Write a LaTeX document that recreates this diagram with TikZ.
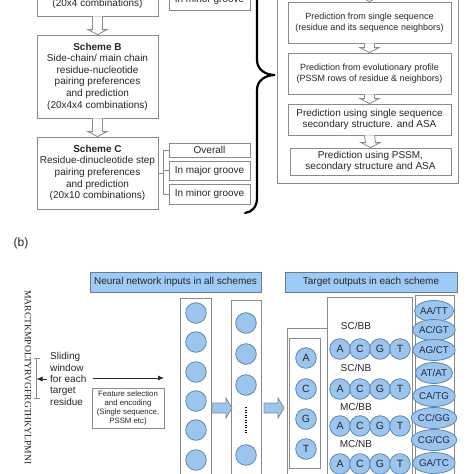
\documentclass[tikz,border=0pt]{standalone}
\usepackage{fontspec}
\setmainfont{Liberation Sans}
\newfontfamily\seqfont{Liberation Serif}
\usetikzlibrary{calc,shapes.geometric,arrows.meta}
\definecolor{gline}{HTML}{8A8A8A}
\definecolor{nfill}{HTML}{9CC5EE}
\definecolor{nline}{HTML}{5E86B5}
\definecolor{tfill}{HTML}{9DCBF7}
\definecolor{tline}{HTML}{6B7B8C}
\definecolor{txt}{HTML}{262626}
\definecolor{dtxt}{HTML}{1E2B4A}
\newcommand{\vholl}[2]{\draw[harrow] ($(#1.south)+(-5,0)$) -- ($(#2.north)+(-5,-5)$) -- ($(#2.north)+(-9.5,-5)$) -- (#2.north) -- ($(#2.north)+(9.5,-5)$) -- ($(#2.north)+(5,-5)$) -- ($(#1.south)+(5,0)$);}
\newcommand{\hholl}[2]{\draw[barrow] ($(#1)+(0,-5)$) -- ($(#2)+(-6,-5)$) -- ($(#2)+(-6,-10)$) -- (#2) -- ($(#2)+(-6,10)$) -- ($(#2)+(-6,5)$) -- ($(#1)+(0,5)$) -- cycle;}
\begin{document}
\begin{tikzpicture}[x=1pt,y=-1pt,
  box/.style={draw=gline, line width=0.8pt, fill=white, inner sep=0pt, text=txt, align=center},
  colbox/.style={draw=gline, line width=0.8pt, inner sep=0pt},
  tbox/.style={draw=tline, line width=0.8pt, fill=tfill, inner sep=0pt, text=txt, font=\fontsize{10}{12}\selectfont},
  ncirc/.style={circle, draw=nline, fill=nfill, line width=0.8pt, minimum size=20.6pt, inner sep=0pt, text=txt, font=\fontsize{10.5}{12}\selectfont},
  nell/.style={ellipse, draw=nline, fill=nfill, line width=0.8pt, minimum width=35pt, minimum height=21pt, inner sep=0pt, text=dtxt, font=\fontsize{9.8}{11}\selectfont},
  harrow/.style={draw=gline, line width=0.8pt, fill=white},
  barrow/.style={draw=gline, line width=0.8pt, fill=nfill},
  conn/.style={draw=gline, line width=0.8pt},
  thin/.style={draw=txt, line width=0.7pt},
  bracestyle/.style={draw=black, line width=2.2pt, line cap=round},
  f10/.style={font=\fontsize{10}{11.6}\selectfont},
  f9/.style={font=\fontsize{9}{11}\selectfont},
]
\useasboundingbox (0,0) rectangle (474,474);
\clip (0,0) rectangle (474,474);
\fill[white] (0,0) rectangle (474,474);

% ---------------- (a) left column
\node[box, minimum width=121pt, minimum height=76pt] (A) at (97.5,-22) {};
\node[text=txt, f10, inner sep=0pt] (Atxt) at ($(A.south)+(0,-12)$) {(20x4 combinations)};
\node[box, f10, minimum width=81pt, minimum height=20pt] (tmin) at (209.5,0) {In minor groove};

\node[box, f10, minimum width=121pt, minimum height=83pt] (B) at (97.5,76.5)
  {\textbf{Scheme B}\\Side-chain/ main chain\\residue-nucleotide\\pairing preferences\\and prediction\\(20x4x4 combinations)};
\node[box, f10, minimum width=121pt, minimum height=72pt] (C) at (97.5,173)
  {\textbf{Scheme C}\\Residue-dinucleotide step\\pairing preferences\\and prediction\\(20x10 combinations)};
\vholl{A}{B}
\vholl{B}{C}

\node[box, f10, minimum width=81pt, minimum height=14pt] (ov) at (209.5,150) {Overall};
\node[box, f10, minimum width=81pt, minimum height=19pt] (mj) at (209.5,170.5) {In major groove};
\node[box, f10, minimum width=81pt, minimum height=20pt] (mn) at (209.5,194) {In minor groove};
\coordinate (jC) at ($(C.east)+(5,0)$);
\draw[conn] (C.east) -- (jC);
\draw[conn] (ov.west) -| (jC);
\draw[conn] (mn.west) -| (jC);
\draw[conn] (mj.west) -- (mj.west -| jC);

% brace
\draw[bracestyle] (257,-70) -- (257,60) .. controls (257,70) and (266,75) .. (275,75)
  .. controls (266,75) and (257,80) .. (257,90) -- (257,198)
  .. controls (257,207) and (252,212) .. (245,213);

% ---------------- (a) right panel
\node[box, minimum width=181pt, minimum height=223pt] (rp) at (367.5,71.5) {};
\node[box, minimum width=163pt, minimum height=32pt] (p0) at (369.5,-24) {};
\node[box, f9, minimum width=163pt, minimum height=41pt] (p1) at (369.5,22.5)
  {Prediction from single sequence\\(residue and its sequence neighbors)};
\node[box, f9, minimum width=163pt, minimum height=41pt] (p2) at (369.5,73.5)
  {Prediction from evolutionary profile\\(PSSM rows of residue \& neighbors)};
\node[box, font=\fontsize{10}{10.3}\selectfont, minimum width=163pt, minimum height=31pt] (p3) at (369.5,119.5)
  {Prediction using single sequence\\secondary structure. and ASA};
\node[box, font=\fontsize{10}{10.3}\selectfont, minimum width=161pt, minimum height=27pt] (p4) at (370.5,161.5)
  {Prediction using PSSM,\\secondary structure and ASA};
\vholl{p0}{p1}
\vholl{p1}{p2}
\vholl{p2}{p3}
\vholl{p3}{p4}

% ---------------- (b)
\node[text=txt, font=\fontsize{12}{14}\selectfont, inner sep=0pt] (blab) at (21,243) {(b)};

\node[tbox, minimum width=171pt, minimum height=20pt] (nin) at (175.5,282) {Neural network inputs in all schemes};
\node[tbox, minimum width=172pt, minimum height=20pt] (tout) at (371,282) {Target outputs in each scheme};

\node[text=txt, font=\seqfont\fontsize{9.6}{11}\selectfont, rotate=-90, anchor=west, inner sep=0pt] (seq) at (28,290) {MARCTKMPOLTYRVGFRGTHKYLPMNI};

\coordinate (sw1) at (36,358);
\coordinate (sw2) at (36,398);
\draw[conn] (sw1) -- (sw2);
\draw[conn] ($(sw1)+(-2,0)$) -- ($(sw1)+(4,0)$);
\draw[conn] ($(sw2)+(-2,0)$) -- ($(sw2)+(4,0)$);

\node[anchor=west, align=left, text=txt, font=\fontsize{10}{11.3}\selectfont, inner sep=0pt] (slide) at (50,379) {Sliding\\window\\for each\\target\\residue};
\coordinate (la) at (36.5,379);
\draw[thin, -{Latex[length=6pt,width=5pt]}] ($(slide.west)+(-3,0)$) -- (la);
\coordinate (ra1) at (93,378);
\coordinate (ra2) at (164,378);
\draw[thin, -{Latex[length=6pt,width=5pt]}] (ra1) -- (ra2);

\node[box, minimum width=72pt, minimum height=40pt, font=\fontsize{7.8}{8.7}\selectfont] (feat) at (128,408)
  {Feature selection\\and encoding\\(Single sequence,\\PSSM etc)};

% input layer
\node[colbox, minimum width=31pt, minimum height=192pt] (incol) at (195.5,394) {};
\foreach \i/\yy in {1/313,2/342,3/372,4/401,5/430,6/460}
  \node[ncirc] (in\i) at (196,\yy) {};
% hidden layer
\node[colbox, minimum width=30pt, minimum height=190pt] (hidcol) at (246,395) {};
\foreach \i/\yy in {1/323,2/354,3/385,4/455}
  \node[ncirc] (h\i) at (246,\yy) {};
\coordinate (d1) at (246,407);
\coordinate (d2) at (246,433);
\draw[black, line width=1.6pt, dash pattern=on 1.2pt off 1.3pt] (d1) -- (d2);

\coordinate (a1s) at (212,408);
\coordinate (a1e) at (232,408);
\hholl{a1s}{a1e}
\coordinate (a2s) at (264,408);
\coordinate (a2e) at (284,408);
\hholl{a2s}{a2e}

% outputs: single nucleotide
\node[colbox, minimum width=40pt, minimum height=162pt] (o1out) at (307,409) {};
\node[colbox, minimum width=31pt, minimum height=130pt] (o1) at (304.5,403) {};
\foreach \i/\l/\yy in {1/A/358,2/C/389,3/G/419,4/T/449}
  \node[ncirc] (s\i) at (306,\yy) {\l};

% outputs: SC/MC
\node[colbox, minimum width=85pt, minimum height=193pt] (o2) at (369.5,393.5) {};
\foreach \r/\lab/\ly/\cy in {1/SC\slash BB/326/349,2/SC\slash NB/368/389,3/MC\slash BB/407/426,4/MC\slash NB/444/464}{
  \node[text=txt, font=\fontsize{10}{12}\selectfont, inner sep=0pt] (lab\r) at (356,\ly) {\lab};
  \foreach \j/\l/\xx in {1/A/340,2/C/360,3/G/380,4/T/400}
    \node[ncirc] (r\r\j) at (\xx,\cy) {\l};
}

% outputs: dinucleotide
\node[colbox, minimum width=39pt, minimum height=195pt] (o3) at (434.5,392.5) {};
\foreach \i/\l/\yy in {1/AA\slash TT/311,2/AC\slash GT/330,3/AG\slash CT/350,4/AT\slash AT/373,5/CA\slash TG/396,6/CC\slash GG/418,7/CG\slash CG/440,8/GA\slash TC/463}
  \node[nell] (e\i) at (434,\yy) {\l};

\end{tikzpicture}
\end{document}
